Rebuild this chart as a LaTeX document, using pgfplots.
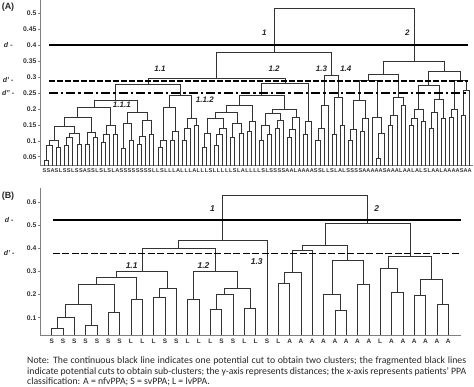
\documentclass[border=0pt]{standalone}
\usepackage{fontspec}
\setmainfont{Liberation Sans}
\newfontfamily\notefont{Carlito}
\usepackage{pgfplots}
\pgfplotsset{compat=1.18}
\pgfplotsset{
  dendro/.style={
    scale only axis, clip=false, axis lines=left,
    axis line style={-, draw=black!50, line width=0.8bp},
    tick align=outside, major tick length=2bp,
    ytick style={draw=black!50, line width=0.6bp},
    xtick style={draw=none},
    unbounded coords=jump,
    yticklabel style={font=\fontsize{6.8}{7}\selectfont\bfseries, text=black!80, inner sep=1.5bp},
  },
  dend/.style={black!80, line width=0.7bp, mark=none},
}
\tikzset{
  lab/.style={font=\fontsize{8}{9}\selectfont\bfseries\itshape, text=black!85},
  labB/.style={font=\fontsize{8.5}{9}\selectfont\bfseries\itshape, text=black!85},
  side/.style={font=\fontsize{7}{8}\selectfont\bfseries, text=black!85, anchor=east},
  note/.style={anchor=base west, inner sep=0pt, font=\notefont\fontsize{9.8}{10}\selectfont, text=black!85},
}
\begin{document}
\begin{tikzpicture}
\useasboundingbox (0,0) rectangle (474bp,-387bp);
% ---------------- Panel A ----------------
\begin{axis}[dendro,
  at={(40bp,-165.7bp)}, anchor=south west,
  width=433bp, height=165.7bp,
  xmin=-1.1, xmax=105.8, ymin=0.022, ymax=0.542,
  ytick={0.05,0.1,0.15,0.2,0.25,0.3,0.35,0.4,0.45,0.5},
  yticklabels={0.05,0.1,0.15,0.2,0.25,0.3,0.35,0.4,0.45,0.5},
  xtick={0,...,105},
  xticklabels={S,S,A,S,L,S,S,L,S,S,A,S,S,L,S,L,S,L,A,S,S,S,S,S,S,S,S,L,L,S,
    L,L,L,A,L,L,L,A,L,L,L,S,L,L,L,L,L,S,L,A,L,L,L,L,S,L,S,S,S,S,A,A,L,A,A,A,A,S,
    S,L,L,S,L,A,L,S,S,S,S,A,A,A,A,A,S,A,A,A,L,A,A,L,A,L,S,L,A,A,L,A,A,A,A,S,A,A},
  xticklabel style={font=\fontsize{5.6}{6}\selectfont\bfseries, text=black!80, inner sep=0.8bp},
]
\addplot[dend] coordinates {
(0,.022) (0,.04) (1,.04) (1,.022) (0,nan)
(0.5,.04) (0.5,.085) (2,.085) (2,.022) (0,nan)
(3,.022) (3,.08) (4,.08) (4,.022) (0,nan)
(1.25,.085) (1.25,.1) (3.5,.1) (3.5,.08) (0,nan)
(5,.022) (5,.085) (6,.085) (6,.022) (0,nan)
(5.5,.085) (5.5,.11) (7,.11) (7,.022) (0,nan)
(8,.022) (8,.09) (9,.09) (9,.022) (0,nan)
(6.25,.11) (6.25,.125) (8.5,.125) (8.5,.09) (0,nan)
(2.375,.1) (2.375,.145) (7.375,.145) (7.375,.125) (0,nan)
(10,.022) (10,.09) (11,.09) (11,.022) (0,nan)
(12,.022) (12,.11) (13,.11) (13,.022) (0,nan)
(10.5,.09) (10.5,.128) (12.5,.128) (12.5,.11) (0,nan)
(4.875,.145) (4.875,.175) (11.5,.175) (11.5,.128) (0,nan)
(14,.022) (14,.095) (15,.095) (15,.022) (0,nan)
(14.5,.095) (14.5,.12) (16,.12) (16,.022) (0,nan)
(17,.022) (17,.12) (18,.12) (18,.022) (0,nan)
(15.25,.12) (15.25,.15) (17.5,.15) (17.5,.12) (0,nan)
(8.1875,.175) (8.1875,.206) (16.375,.206) (16.375,.15) (0,nan)
(19,.022) (19,.075) (20,.075) (20,.022) (0,nan)
(21,.022) (21,.1) (22,.1) (22,.022) (0,nan)
(19.5,.075) (19.5,.155) (21.5,.155) (21.5,.1) (0,nan)
(23,.022) (23,.09) (24,.09) (24,.022) (0,nan)
(23.5,.09) (23.5,.115) (25,.115) (25,.022) (0,nan)
(26,.022) (26,.12) (27,.12) (27,.022) (0,nan)
(24.25,.115) (24.25,.165) (26.5,.165) (26.5,.12) (0,nan)
(20.5,.155) (20.5,.19) (25.375,.19) (25.375,.165) (0,nan)
(12.281,.206) (12.281,.227) (22.938,.227) (22.938,.19) (0,nan)
(28,.022) (28,.08) (29,.08) (29,.022) (0,nan)
(28.5,.08) (28.5,.1) (30,.1) (30,.022) (0,nan)
(31,.022) (31,.1) (32,.1) (32,.022) (0,nan)
(31.5,.1) (31.5,.13) (33,.13) (33,.022) (0,nan)
(29.25,.1) (29.25,.205) (32.25,.205) (32.25,.13) (0,nan)
(34,.022) (34,.1) (35,.1) (35,.022) (0,nan)
(34.5,.1) (34.5,.14) (36,.14) (36,.022) (0,nan)
(37,.022) (37,.15) (38,.15) (38,.022) (0,nan)
(35.25,.14) (35.25,.17) (37.5,.17) (37.5,.15) (0,nan)
(30.75,.205) (30.75,.243) (36.375,.243) (36.375,.17) (0,nan)
(17.609,.227) (17.609,.276) (33.563,.276) (33.563,.243) (0,nan)
(39,.022) (39,.08) (40,.08) (40,.022) (0,nan)
(39.5,.08) (39.5,.125) (41,.125) (41,.022) (0,nan)
(42,.022) (42,.085) (43,.085) (43,.022) (0,nan)
(42.5,.085) (42.5,.12) (44,.12) (44,.022) (0,nan)
(43.25,.12) (43.25,.14) (45,.14) (45,.022) (0,nan)
(40.25,.125) (40.25,.17) (44.125,.17) (44.125,.14) (0,nan)
(46,.022) (46,.11) (47,.11) (47,.022) (0,nan)
(48,.022) (48,.125) (49,.125) (49,.022) (0,nan)
(46.5,.11) (46.5,.155) (48.5,.155) (48.5,.125) (0,nan)
(42.188,.17) (42.188,.19) (47.5,.19) (47.5,.155) (0,nan)
(50,.022) (50,.13) (51,.13) (51,.022) (0,nan)
(50.5,.13) (50.5,.16) (52,.16) (52,.022) (0,nan)
(44.844,.19) (44.844,.212) (51.25,.212) (51.25,.16) (0,nan)
(53,.022) (53,.1) (54,.1) (54,.022) (0,nan)
(55,.022) (55,.12) (56,.12) (56,.022) (0,nan)
(53.5,.1) (53.5,.15) (55.5,.15) (55.5,.12) (0,nan)
(57,.022) (57,.14) (58,.14) (58,.022) (0,nan)
(57.5,.14) (57.5,.165) (59,.165) (59,.022) (0,nan)
(54.5,.15) (54.5,.185) (58.25,.185) (58.25,.165) (0,nan)
(60,.022) (60,.11) (61,.11) (61,.022) (0,nan)
(60.5,.11) (60.5,.135) (62,.135) (62,.022) (0,nan)
(61.25,.135) (61.25,.175) (63,.175) (63,.022) (0,nan)
(56.375,.185) (56.375,.2) (62.125,.2) (62.125,.175) (0,nan)
(48.047,.212) (48.047,.243) (59.25,.243) (59.25,.2) (0,nan)
(64,.022) (64,.12) (65,.12) (65,.022) (0,nan)
(64.5,.12) (64.5,.16) (66,.16) (66,.022) (0,nan)
(53.648,.243) (53.648,.282) (65.25,.282) (65.25,.16) (0,nan)
(25.586,.276) (25.586,.295) (59.449,.295) (59.449,.282) (0,nan)
(67,.022) (67,.1) (68,.1) (68,.022) (0,nan)
(67.5,.1) (67.5,.14) (69,.14) (69,.022) (0,nan)
(68.25,.14) (68.25,.21) (70,.21) (70,.022) (0,nan)
(71,.022) (71,.12) (72,.12) (72,.022) (0,nan)
(73,.022) (73,.15) (74,.15) (74,.022) (0,nan)
(71.5,.12) (71.5,.237) (73.5,.237) (73.5,.15) (0,nan)
(69.125,.21) (69.125,.305) (72.5,.305) (72.5,.237) (0,nan)
(42.518,.295) (42.518,.377) (70.813,.377) (70.813,.305) (0,nan)
(75,.022) (75,.1) (76,.1) (76,.022) (0,nan)
(75.5,.1) (75.5,.135) (77,.135) (77,.022) (0,nan)
(78,.022) (78,.13) (79,.13) (79,.022) (0,nan)
(78.5,.13) (78.5,.17) (80,.17) (80,.022) (0,nan)
(76.25,.135) (76.25,.227) (79.25,.227) (79.25,.17) (0,nan)
(82,.022) (82,.045) (83,.045) (83,.022) (0,nan)
(82.5,.045) (82.5,.125) (84,.125) (84,.022) (0,nan)
(81,.022) (81,.175) (83.25,.175) (83.25,.125) (0,nan)
(77.75,.227) (77.75,.29) (82.125,.29) (82.125,.175) (0,nan)
(85,.022) (85,.15) (86,.15) (86,.022) (0,nan)
(85.5,.15) (85.5,.18) (87,.18) (87,.022) (0,nan)
(88,.022) (88,.21) (89,.21) (89,.022) (0,nan)
(86.25,.18) (86.25,.237) (88.5,.237) (88.5,.21) (0,nan)
(79.938,.29) (79.938,.31) (87.375,.31) (87.375,.237) (0,nan)
(90,.022) (90,.15) (91,.15) (91,.022) (0,nan)
(90.5,.15) (90.5,.17) (92,.17) (92,.022) (0,nan)
(93,.022) (93,.16) (94,.16) (94,.022) (0,nan)
(91.25,.17) (91.25,.2) (93.5,.2) (93.5,.16) (0,nan)
(95,.022) (95,.14) (96,.14) (96,.022) (0,nan)
(95.5,.14) (95.5,.19) (97,.19) (97,.022) (0,nan)
(98,.022) (98,.17) (99,.17) (99,.022) (0,nan)
(96.25,.19) (96.25,.23) (98.5,.23) (98.5,.17) (0,nan)
(92.375,.2) (92.375,.275) (97.375,.275) (97.375,.23) (0,nan)
(100,.022) (100,.175) (101,.175) (101,.022) (0,nan)
(100.5,.175) (100.5,.2) (102,.2) (102,.022) (0,nan)
(103,.022) (103,.18) (104,.18) (104,.022) (0,nan)
(103.5,.18) (103.5,.26) (105,.26) (105,.022) (0,nan)
(101.25,.2) (101.25,.29) (104.25,.29) (104.25,.26) (0,nan)
(94.875,.275) (94.875,.318) (102.75,.318) (102.75,.29) (0,nan)
(83.656,.31) (83.656,.35) (98.813,.35) (98.813,.318) (0,nan)
(56.665,.377) (56.665,.516) (91.234,.516) (91.234,.35)
};
\addplot[black, line width=2.2bp] coordinates {(1.1,0.4) (104.6,0.4)};
\addplot[black, line width=1.8bp, dash pattern=on 6bp off 2bp] coordinates {(1.1,0.287) (104.6,0.287)};
\addplot[black, line width=2.4bp, dash pattern=on 9bp off 3bp on 2.5bp off 3bp] coordinates {(1.1,0.25) (104.0,0.25)};
\node[lab] at (axis cs:54.3,0.44) {1};
\node[lab] at (axis cs:89.6,0.44) {2};
\node[lab] at (axis cs:28.5,0.327) {1.1};
\node[lab] at (axis cs:56.7,0.327) {1.2};
\node[lab] at (axis cs:68.4,0.327) {1.3};
\node[lab] at (axis cs:74.4,0.327) {1.4};
\node[lab] at (axis cs:19.1,0.212) {1.1.1};
\node[lab] at (axis cs:39.6,0.228) {1.1.2};
\node[side] at (axis cs:-7.0,0.4) {\textit{d} -};
\node[side] at (axis cs:-6.8,0.29) {\textit{d'} -};
\node[side] at (axis cs:-6.6,0.25) {\textit{d''} -};
\end{axis}
% ---------------- Panel B ----------------
\begin{axis}[dendro,
  at={(40bp,-335bp)}, anchor=south west,
  width=421bp, height=146.7bp,
  xmin=-1.03, xmax=36.13, ymin=0.025, ymax=0.661,
  ytick={0.1,0.2,0.3,0.4,0.5,0.6},
  yticklabels={0.1,0.2,0.3,0.4,0.5,0.6},
  xtick={0,...,35},
  xticklabels={S,S,S,S,S,S,S,L,L,L,S,S,L,L,L,S,S,L,L,S,L,A,A,A,A,A,A,A,A,L,A,A,A,A,A,A},
  xticklabel style={font=\fontsize{6.5}{7}\selectfont\bfseries, text=black!80, inner sep=2bp},
]
\addplot[dend] coordinates {
(0,.025) (0,.055) (1,.055) (1,.025) (0,nan)
(0.5,.055) (0.5,.1) (2,.1) (2,.025) (0,nan)
(3,.025) (3,.065) (4,.065) (4,.025) (0,nan)
(1.25,.1) (1.25,.16) (3.5,.16) (3.5,.065) (0,nan)
(5,.025) (5,.125) (6,.125) (6,.025) (0,nan)
(2.375,.16) (2.375,.245) (5.5,.245) (5.5,.125) (0,nan)
(7,.025) (7,.178) (8,.178) (8,.025) (0,nan)
(3.9375,.245) (3.9375,.275) (7.5,.275) (7.5,.178) (0,nan)
(9,.025) (9,.19) (10,.19) (10,.025) (0,nan)
(9.5,.19) (9.5,.228) (11,.228) (11,.025) (0,nan)
(5.719,.275) (5.719,.3) (10.25,.3) (10.25,.228) (0,nan)
(12,.025) (12,.178) (13,.178) (13,.025) (0,nan)
(14,.025) (14,.135) (15,.135) (15,.025) (0,nan)
(14.5,.135) (14.5,.2) (16,.2) (16,.025) (0,nan)
(17,.025) (17,.14) (18,.14) (18,.025) (0,nan)
(15.25,.2) (15.25,.228) (17.5,.228) (17.5,.14) (0,nan)
(12.5,.178) (12.5,.3) (16.375,.3) (16.375,.228) (0,nan)
(7.984,.3) (7.984,.4) (14.438,.4) (14.438,.3) (0,nan)
(11.211,.4) (11.211,.435) (19,.435) (19,.025) (0,nan)
(20,.025) (20,.25) (21,.25) (21,.025) (0,nan)
(20.5,.25) (20.5,.295) (22,.295) (22,.025) (0,nan)
(21.25,.295) (21.25,.39) (23,.39) (23,.025) (0,nan)
(25,.025) (25,.13) (26,.13) (26,.025) (0,nan)
(24,.025) (24,.2) (25.5,.2) (25.5,.13) (0,nan)
(27,.025) (27,.245) (28,.245) (28,.025) (0,nan)
(24.75,.2) (24.75,.35) (27.5,.35) (27.5,.245) (0,nan)
(22.125,.39) (22.125,.415) (26.125,.415) (26.125,.35) (0,nan)
(30,.025) (30,.21) (31,.21) (31,.025) (0,nan)
(29,.025) (29,.315) (30.5,.315) (30.5,.21) (0,nan)
(32,.025) (32,.195) (33,.195) (33,.025) (0,nan)
(34,.025) (34,.16) (35,.16) (35,.025) (0,nan)
(32.5,.195) (32.5,.265) (34.5,.265) (34.5,.16) (0,nan)
(29.75,.315) (29.75,.365) (33.5,.365) (33.5,.265) (0,nan)
(24.125,.415) (24.125,.51) (31.625,.51) (31.625,.365) (0,nan)
(15.105,.435) (15.105,.63) (27.875,.63) (27.875,.51)
};
\addplot[black, line width=2.2bp] coordinates {(0.11,0.525) (36.1,0.525)};
\addplot[black, line width=1.8bp, dash pattern=on 7bp off 2.5bp] coordinates {(0.11,0.378) (36.1,0.378)};
\node[labB] at (axis cs:14.2,0.574) {1};
\node[labB] at (axis cs:28.7,0.574) {2};
\node[labB] at (axis cs:7.06,0.327) {1.1};
\node[labB] at (axis cs:13.4,0.327) {1.2};
\node[labB] at (axis cs:18.1,0.342) {1.3};
\node[side] at (axis cs:-3.06,0.525) {\textit{d} -};
\node[side] at (axis cs:-2.97,0.38) {\textit{d'} -};
\end{axis}
% panel tags
\node[font=\fontsize{9}{10}\selectfont\bfseries, text=black!85] at (8bp,-7bp) {(A)};
\node[font=\fontsize{9}{10}\selectfont\bfseries, text=black!85] at (8bp,-196bp) {(B)};
% note
\node[note] at (27bp,-363bp)
  {\makebox[439bp][s]{Note: The continuous black line indicates one potential cut to obtain two clusters; the fragmented black lines}};
\node[note] at (27bp,-374bp)
  {\makebox[439bp][s]{indicate potential cuts to obtain sub-clusters; the y-axis represents distances; the x-axis represents patients’ PPA}};
\node[note] at (27bp,-384.5bp)
  {classification: A = nfvPPA; S = svPPA; L = lvPPA.};
\end{tikzpicture}
\end{document}
